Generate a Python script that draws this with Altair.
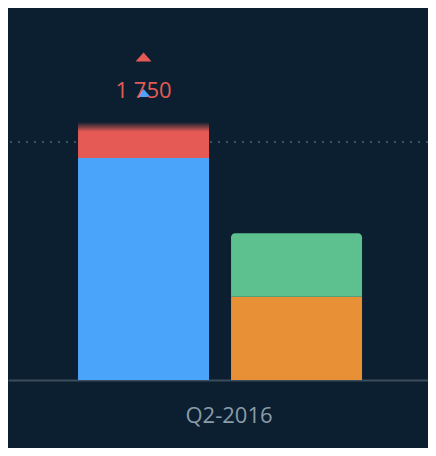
import altair as alt
import pandas as pd

# ---- data ----
quarter = "Q2-2016"
groups = ["Left", "Left", "Right", "Right"]
segments = ["Blue", "Red", "Orange", "Green"]
values = [1505, 245, 565, 430]
segment_colors = ["#4aa5fa", "#e55a54", "#e89036", "#5cc08f"]
target_value = 1615
total_label = "1 750"
y_max = 2523

BG = "#0b1f30"
RED = "#e55a54"
BLUE = "#4aa5fa"

df = pd.DataFrame({"quarter": quarter, "group": groups, "segment": segments, "value": values})
df["end"] = df.groupby("group")["value"].cumsum()
df["start"] = df["end"] - df["value"]

totals = df.groupby("group", as_index=False)["end"].max()
ann = totals[totals["group"] == "Left"].copy()
ann["quarter"] = quarter
ann["label"] = total_label

target_df = pd.DataFrame({"target": [target_value]})

x_enc = alt.X(
    "quarter:N",
    scale=alt.Scale(paddingInner=0, paddingOuter=0),
    axis=alt.Axis(
        title=None, labelAngle=0, ticks=False, tickSize=0,
        domainColor="#3c4d5b", domainWidth=2,
        labelFont="Open Sans", labelFontSize=22, labelColor="#8a9ba8",
        labelPadding=42, labelBaseline="alphabetic", labelOffset=11,
    ),
)
xo_enc = alt.XOffset(
    "group:N",
    scale=alt.Scale(domain=["Left", "Right"], paddingInner=0.1438, paddingOuter=0.4444, align=0.515),
)
y_scale = alt.Scale(domain=[0, y_max], nice=False, zero=True)

rule = alt.Chart(target_df).mark_rule(
    color="#3b5060", strokeWidth=2, strokeDash=[2, 6]
).encode(y=alt.Y("target:Q", scale=y_scale, axis=None))

base = alt.Chart(df)

def seg_bar(seg_names, **mark_kwargs):
    return base.transform_filter(
        alt.FieldOneOfPredicate(field="segment", oneOf=seg_names)
    ).mark_bar(**mark_kwargs).encode(
        x=x_enc,
        xOffset=xo_enc,
        y=alt.Y("start:Q", scale=y_scale, axis=None),
        y2="end:Q",
        color=alt.Color("segment:N", scale=alt.Scale(domain=segments, range=segment_colors), legend=None),
    )

bars_plain = seg_bar(["Blue", "Orange"])
bars_green = seg_bar(["Green"], cornerRadiusTopLeft=4, cornerRadiusTopRight=4)

red_bar = base.transform_filter(alt.datum.segment == "Red").mark_bar(
    color=alt.Gradient(
        gradient="linear",
        stops=[alt.GradientStop(color=BG, offset=0), alt.GradientStop(color=RED, offset=0.27), alt.GradientStop(color=RED, offset=1)],
        x1=0, x2=0, y1=0, y2=1,
    )
).encode(
    x=x_enc,
    xOffset=xo_enc,
    y=alt.Y("start:Q", scale=y_scale, axis=None),
    y2="end:Q",
)

tri_path = "M-1,0.5625L1,0.5625L0,-0.5625Z"
ann_base = alt.Chart(ann).encode(
    x=x_enc,
    xOffset=xo_enc,
    y=alt.Y("end:Q", scale=y_scale, axis=None),
)
red_tri = ann_base.mark_point(shape=tri_path, size=256, filled=True, color=RED, opacity=1, yOffset=-65)
blue_tri = ann_base.mark_point(shape=tri_path, size=196, filled=True, color=BLUE, opacity=1, yOffset=-29)
label = ann_base.mark_text(
    dy=-24, baseline="alphabetic", align="center", font="Open Sans", fontSize=22, color=RED
).encode(text="label:N")

chart = alt.layer(rule, bars_plain, bars_green, red_bar, red_tri, blue_tri, label).properties(
    width=420,
    height=372,
    autosize=alt.AutoSizeParams(type="none"),
    padding={"left": 0, "top": 0, "right": 0, "bottom": 68},
    background=BG,
).configure_view(stroke=None)

chart.save("out.html", embed_options={"renderer": "svg", "actions": False})
